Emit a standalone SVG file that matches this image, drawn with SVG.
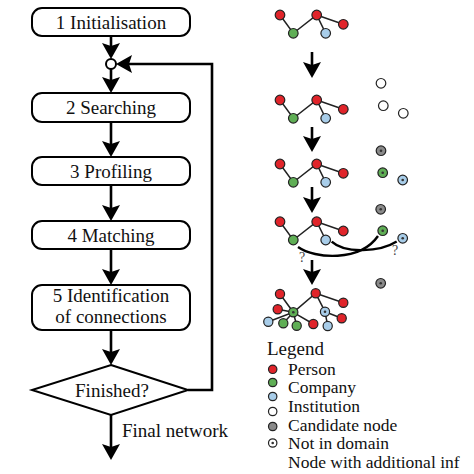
<svg xmlns="http://www.w3.org/2000/svg" width="474" height="474" viewBox="0 0 474 474">
<style>
.box{fill:#fff;stroke:#000;stroke-width:2}
.t{font-family:"Liberation Serif","Times New Roman",serif;font-size:19px;fill:#111}
.lg{font-family:"Liberation Serif","Times New Roman",serif;font-size:17.5px;fill:#111}
.q{font-family:"Liberation Serif","Times New Roman",serif;font-size:14px;fill:#444}
.ar{fill:none;stroke:#000;stroke-width:2.6;marker-end:url(#ah)}
.e{stroke:#222;stroke-width:1.5;fill:none}
.cv{stroke:#000;stroke-width:2.4;fill:none}
.n{stroke:#222;stroke-width:1.2}
.r{fill:#e0242a}.g{fill:#5fae55}.b{fill:#a8cde9}.w{fill:#fff}.k{fill:#8a8a8a}
.dot{fill:#333}
</style>
<defs>
<marker id="ah" markerUnits="userSpaceOnUse" markerWidth="18" markerHeight="18" viewBox="0 0 16 18" refX="8" refY="9" orient="auto">
<path d="M0,0 L16,9 L0,18 L3,9 Z" fill="#000"/>
</marker>
<g id="net">
<path class="e" d="M280,15 L293.3,33.3 L316.7,15 L325.7,33.3 M316.7,15 L343.3,24.3"/>
<circle class="n r" cx="280" cy="15" r="4.8"/>
<circle class="n r" cx="316.7" cy="15" r="4.8"/>
<circle class="n r" cx="343.3" cy="24.3" r="4.8"/>
<circle class="n g" cx="293.3" cy="33.3" r="4.8"/>
<circle class="n b" cx="325.7" cy="33.3" r="4.8"/>
</g>
</defs>

<g id="connectors">
<path class="ar" d="M111,36 V51"/>
<path class="ar" d="M111,69 V85"/>
<path class="ar" d="M111,122 V149"/>
<path class="ar" d="M111,185 V213"/>
<path class="ar" d="M111,249 V277"/>
<path class="ar" d="M111,330 V357"/>
<path class="ar" d="M111,415 V452"/>
<path class="ar" d="M188,390 H212 V64 H124"/>
<path class="ar" d="M312,52 V70"/>
<path class="ar" d="M312,127 V144"/>
<path class="ar" d="M312,187 V205"/>
<path class="ar" d="M312,260 V277"/>
<path class="cv" d="M298,247 C315,259 360,262 378,236"/>
<path class="cv" d="M331.7,241.7 C345,254 380,252 396.7,241.5"/>
</g>

<g id="n1"><rect class="box" x="32" y="8" width="158" height="28" rx="10"/><text class="t" x="111" y="29" text-anchor="middle">1 Initialisation</text></g>
<g id="merge"><circle cx="111" cy="64" r="5" fill="#fff" stroke="#000" stroke-width="2"/></g>
<g id="n2"><rect class="box" x="32" y="93" width="158" height="29" rx="10"/><text class="t" x="111" y="113.5" text-anchor="middle">2 Searching</text></g>
<g id="n3"><rect class="box" x="32" y="157" width="158" height="28" rx="10"/><text class="t" x="111" y="177.5" text-anchor="middle">3 Profiling</text></g>
<g id="n4"><rect class="box" x="32" y="221" width="158" height="28" rx="10"/><text class="t" x="111" y="241.5" text-anchor="middle">4 Matching</text></g>
<g id="n5"><rect class="box" x="32" y="285" width="158" height="45" rx="10"/><text class="t" x="111" y="302" text-anchor="middle">5 Identification</text><text class="t" x="111" y="322.5" text-anchor="middle">of connections</text></g>
<g id="n6"><polygon class="box" points="111,365 188,390 111,415 32,390"/><text class="t" x="112" y="397" text-anchor="middle">Finished?</text></g>
<g id="final"><text class="t" x="122" y="437">Final network</text></g>

<g id="net1"><use href="#net"/></g>
<g id="net2"><use href="#net" y="85"/>
<circle class="n w" cx="381" cy="83.3" r="4.8"/>
<circle class="n w" cx="383.3" cy="105.7" r="4.8"/>
<circle class="n w" cx="403.3" cy="113.3" r="4.8"/>
</g>
<g id="net3"><use href="#net" y="149"/>
<circle class="n k" cx="381" cy="150.7" r="4.8"/><circle class="dot" cx="381" cy="150.7" r="1.3"/>
<circle class="n g" cx="382.7" cy="172.7" r="4.8"/><circle class="dot" cx="382.7" cy="172.7" r="1.3"/>
<circle class="n b" cx="402.7" cy="180" r="4.8"/><circle class="dot" cx="402.7" cy="180" r="1.3"/>
</g>
<g id="net4"><use href="#net" y="206.7"/>
<circle class="n k" cx="380.7" cy="209.3" r="4.8"/><circle class="dot" cx="380.7" cy="209.3" r="1.3"/>
<circle class="n g" cx="382.7" cy="230.7" r="4.8"/><circle class="dot" cx="382.7" cy="230.7" r="1.3"/>
<circle class="n b" cx="402.7" cy="238.3" r="4.8"/><circle class="dot" cx="402.7" cy="238.3" r="1.3"/>
<text class="q" x="302" y="262" text-anchor="middle">?</text>
<text class="q" x="395" y="254.5" text-anchor="middle">?</text>
</g>
<g id="cand5">
<circle class="n k" cx="380.7" cy="283.3" r="4.8"/><circle class="dot" cx="380.7" cy="283.3" r="1.3"/>
</g>
<g id="net5">
<path class="e" d="M280,294 L293.3,312.3 L315.7,293.3 L325,311.7 M315.7,293.3 L343.3,302.7 M277.7,309.3 L293.3,312.3 L268.3,321.7 M293.3,312.3 L283.3,323.3 M293.3,312.3 L296.7,325.7 M293.3,312.3 L313.3,324 M325,311.7 L341.7,318.3 M325,311.7 L327.7,326"/>
<circle class="n r" cx="280" cy="294" r="4.6"/>
<circle class="n r" cx="315.7" cy="293.3" r="4.6"/>
<circle class="n r" cx="343.3" cy="302.7" r="4.6"/>
<circle class="n r" cx="277.7" cy="309.3" r="4.6"/>
<circle class="n r" cx="341.7" cy="318.3" r="4.6"/>
<circle class="n r" cx="313.3" cy="324" r="4.6"/>
<circle class="n b" cx="268.3" cy="321.7" r="4.6"/>
<circle class="n b" cx="327.7" cy="326" r="4.6"/>
<circle class="n g" cx="283.3" cy="323.3" r="4.6"/>
<circle class="n g" cx="296.7" cy="325.7" r="4.6"/>
<circle class="n g" cx="293.3" cy="312.3" r="4.6"/><circle class="dot" cx="293.3" cy="312.3" r="1.3"/>
<circle class="n b" cx="325" cy="311.7" r="4.6"/><circle class="dot" cx="325" cy="311.7" r="1.3"/>
</g>

<g id="legend">
<text class="t" x="267" y="355">Legend</text>
<circle class="n r" cx="272.7" cy="369.3" r="4.2"/>
<circle class="n g" cx="272.7" cy="382.5" r="4.2"/>
<circle class="n b" cx="272.7" cy="396.5" r="4.2"/>
<circle class="n w" cx="272.7" cy="411.5" r="4.2"/>
<circle class="n k" cx="272.7" cy="426.5" r="4.2"/>
<circle class="n w" cx="272.7" cy="443" r="4.2"/><circle class="dot" cx="272.7" cy="443" r="1.3"/>
<text class="lg" x="288" y="374.5">Person</text>
<text class="lg" x="288" y="393">Company</text>
<text class="lg" x="288" y="412">Institution</text>
<text class="lg" x="288" y="430.5">Candidate node</text>
<text class="lg" x="288" y="449">Not in domain</text>
<text class="lg" x="288" y="468.4">Node with additional inf</text>
</g>
</svg>
